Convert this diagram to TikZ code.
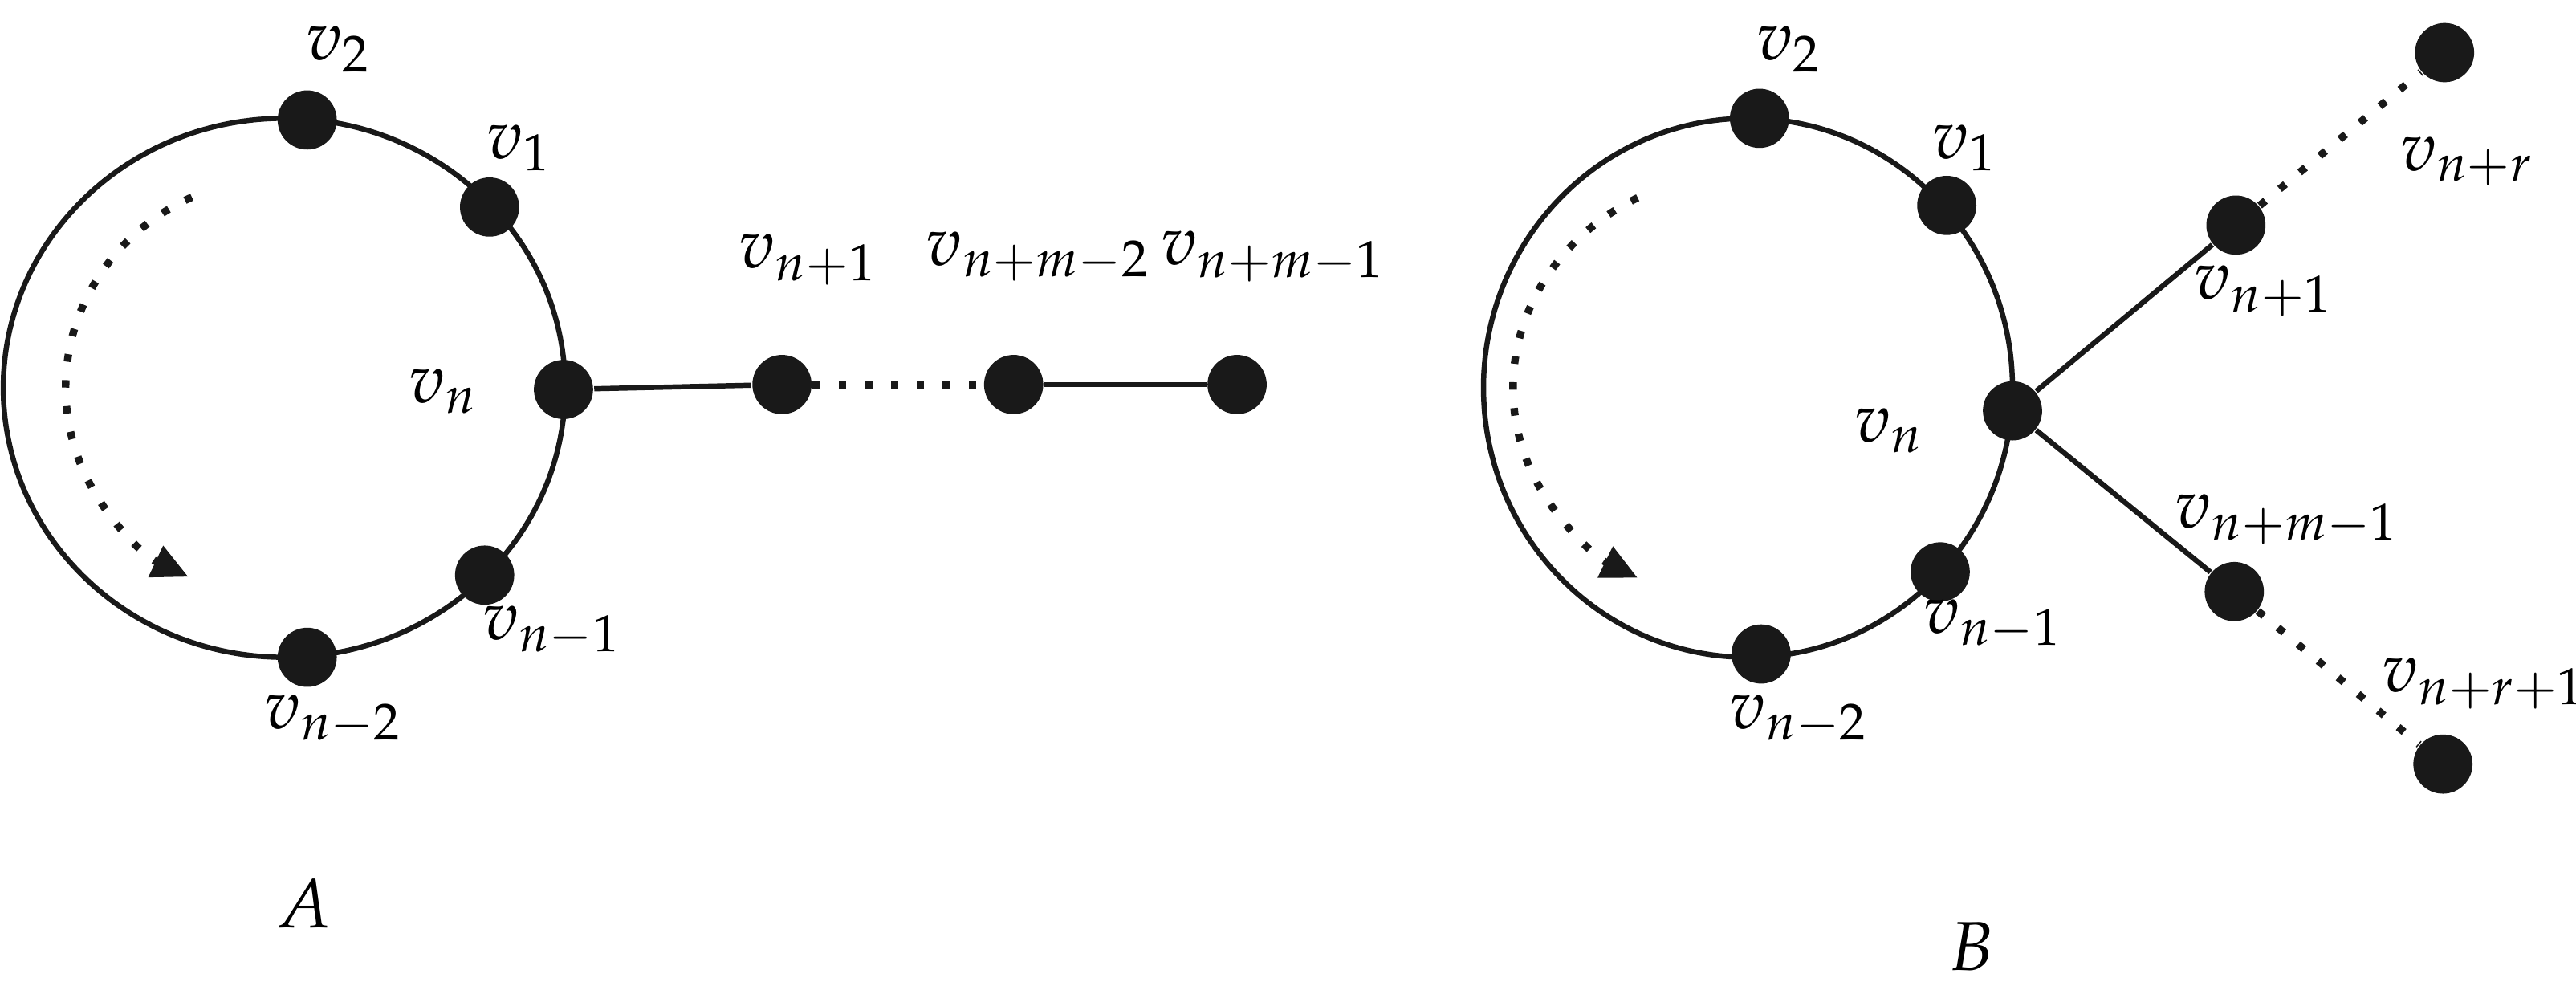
\documentclass[tikz,border=0pt]{standalone}
\usepackage{mathpazo}
\usetikzlibrary{arrows.meta}
\begin{document}
\begin{tikzpicture}[x=0.01cm,y=-0.01cm,
  vtx/.style={circle,fill=black!90,inner sep=0pt,minimum size=0.36cm},
  lbl/.style={font=\fontsize{12}{14}\selectfont},
  edge/.style={line width=0.9pt,black!90},
  dotedge/.style={line width=1.3pt,black!90,dash pattern=on 1.3pt off 3.2pt},
  arc/.style={line width=1.3pt,black!90,dash pattern=on 1.3pt off 3.2pt,-{Triangle[length=0.22cm,width=0.2cm]}}]
\useasboundingbox (0,0) rectangle (1568,602);
% ---- Panel A
\draw[edge] (173,236) ellipse [x radius=171,y radius=164];
\node[vtx] (a2) at (187,73) {};
\node[vtx] (a1) at (298,126) {};
\node[vtx] (an) at (343,237) {};
\node[vtx] (an1) at (295,350) {};
\node[vtx] (an2) at (187,400) {};
\node[vtx] (ap1) at (476,234) {};
\node[vtx] (apm2) at (617,234) {};
\node[vtx] (apm1) at (753,234) {};
\draw[edge] (an) -- (ap1);
\draw[dotedge] (ap1) -- (apm2);
\draw[edge] (apm2) -- (apm1);
\draw[arc] (173,236) ++(115:133 and -128) arc[start angle=115,end angle=244,x radius=133,y radius=-128];
\node[lbl] (la2) at (206,30) {$v_2$};
\node[lbl] (la1) at (316,90) {$v_1$};
\node[lbl] (lan) at (270,238) {$v_n$};
\node[lbl] (lap1) at (492,158) {$v_{n+1}$};
\node[lbl] (lapm2) at (632,156) {$v_{n+m-2}$};
\node[lbl] (lapm1) at (775,156) {$v_{n+m-1}$};
\node[lbl] (lan1) at (336,384) {$v_{n-1}$};
\node[lbl] (lan2) at (203,438) {$v_{n-2}$};
\node[lbl] (lA) at (185,550) {$A$};
% ---- Panel B
\draw[edge] (1064,236) ellipse [x radius=161,y radius=164];
\node[vtx] (b2) at (1071,72) {};
\node[vtx] (b1) at (1185,125) {};
\node[vtx] (bn) at (1225,250) {};
\node[vtx] (bn1) at (1181,348) {};
\node[vtx] (bn2) at (1072,398) {};
\node[vtx] (bp1) at (1361,137) {};
\node[vtx] (bpr) at (1488,32) {};
\node[vtx] (bpm1) at (1360,360) {};
\node[vtx] (bpr1) at (1487,465) {};
\draw[edge] (bn) -- (bp1);
\draw[edge] (bn) -- (bpm1);
\draw[dotedge] (bp1) -- (bpr);
\draw[dotedge] (bpm1) -- (bpr1);
\draw[arc] (1064,236) ++(118:143 and -131) arc[start angle=118,end angle=242,x radius=143,y radius=-131];
\node[lbl] (lb2) at (1089,30) {$v_2$};
\node[lbl] (lb1) at (1196,90) {$v_1$};
\node[lbl] (lbn) at (1150,262) {$v_n$};
\node[lbl] (lbp1) at (1378,177) {$v_{n+1}$};
\node[lbl] (lbpr) at (1502,98) {$v_{n+r}$};
\node[lbl] (lbpm1) at (1392,316) {$v_{n+m-1}$};
\node[lbl] (lbpr1) at (1512,416) {$v_{n+r+1}$};
\node[lbl] (lbn1) at (1213,380) {$v_{n-1}$};
\node[lbl] (lbn2) at (1095,438) {$v_{n-2}$};
\node[lbl] (lB) at (1200,576) {$B$};
\end{tikzpicture}
\end{document}
